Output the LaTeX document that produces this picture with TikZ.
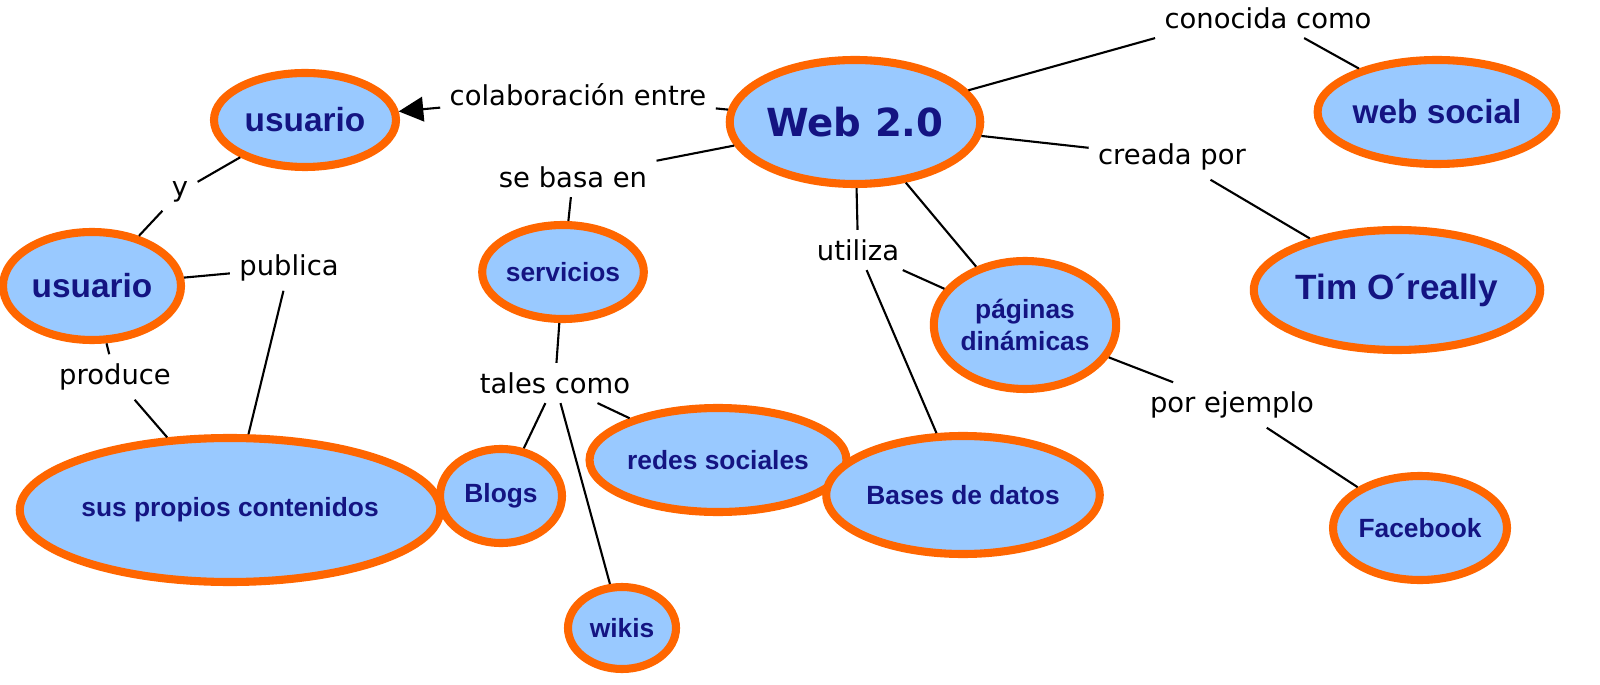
\documentclass[tikz,border=0pt]{standalone}
\usepackage{fontspec}
\setmainfont{DejaVu Sans}
\newfontfamily\nodefont{Liberation Sans}
\usetikzlibrary{shapes.geometric,arrows.meta}
\definecolor{fillblue}{RGB}{153,201,255}
\definecolor{borderor}{RGB}{255,102,0}
\definecolor{navy}{RGB}{20,20,130}
\tikzset{
 concept/.style={ellipse,draw=borderor,fill=fillblue,line width=2.3pt,inner sep=0pt,text=navy,font=\nodefont\bfseries\fontsize{7.5}{9}\selectfont,align=center},
 lbl/.style={inner sep=2.5pt,font=\fontsize{7.8}{9.5}\selectfont},
 conn/.style={line width=0.6pt,black}
}
\begin{document}
\begin{tikzpicture}
\useasboundingbox (0,0) rectangle (16,6.84);
\fill[white] (0,0) rectangle (16,6.84);
% concepts
\node[concept,minimum width=1.82cm,minimum height=0.94cm,font=\nodefont\bfseries\fontsize{9.5}{11}\selectfont] (u1) at (3.05,5.64) {usuario};
\node[concept,minimum width=1.78cm,minimum height=1.08cm,font=\nodefont\bfseries\fontsize{9.5}{11}\selectfont] (u2) at (0.92,3.98) {usuario};
\node[concept,minimum width=3.12cm,minimum height=1.44cm] (sus) at (2.30,1.74) {sus propios contenidos};
\node[concept,minimum width=2.42cm,minimum height=1.24cm,font=\bfseries\fontsize{11}{13}\selectfont] (web) at (8.55,5.62) {Web 2.0};
\node[concept,minimum width=1.92cm,minimum height=1.04cm,font=\nodefont\bfseries\fontsize{9.5}{11}\selectfont] (ws) at (14.37,5.72) {web social};
\node[concept,minimum width=2.52cm,minimum height=1.2cm,font=\nodefont\bfseries\fontsize{10}{12}\selectfont] (tim) at (13.97,3.94) {Tim O´really};
\node[concept,minimum width=1.56cm,minimum height=0.94cm] (serv) at (5.63,4.12) {servicios};
\node[concept,minimum width=1.68cm,minimum height=1.28cm] (pag) at (10.25,3.59) {páginas\\dinámicas};
\node[concept,minimum width=2.16cm,minimum height=1.04cm] (redes) at (7.18,2.24) {redes sociales};
\node[concept,minimum width=1.22cm,minimum height=0.94cm] (blogs) at (5.01,1.88) {Blogs};
\node[concept,minimum width=1.08cm,minimum height=0.82cm] (wikis) at (6.22,0.56) {wikis};
\node[concept,minimum width=2.32cm,minimum height=1.18cm] (bases) at (9.63,1.89) {Bases de datos};
\node[concept,minimum width=1.72cm,minimum height=1.04cm] (fb) at (14.20,1.56) {Facebook};
% labels
\node[lbl] (colab) at (5.78,5.89) {colaboración entre};
\node[lbl] (cono) at (12.68,6.66) {conocida como};
\node[lbl] (crea) at (11.72,5.27) {creada por};
\node[lbl] (basa) at (5.73,5.07) {se basa en};
\node[lbl] (util) at (8.58,4.34) {utiliza};
\node[lbl] (y) at (1.80,4.92) {y};
\node[lbl] (pub) at (2.89,4.16) {publica};
\node[lbl] (prod) at (1.15,3.07) {produce};
\node[lbl] (tales) at (5.55,3.01) {tales como};
\node[lbl] (ejem) at (12.32,2.79) {por ejemplo};
% connectors
\draw[conn] (web) -- (colab);
\draw[conn,-{Triangle[length=7pt,width=7pt]}] (colab) -- (u1);
\draw[conn] (web) -- (cono.south west);
\draw[conn] (cono) -- (ws);
\draw[conn] (web) -- (crea);
\draw[conn] (crea) -- (tim);
\draw[conn] (web) -- (basa);
\draw[conn] (basa) -- (serv);
\draw[conn] (web) -- (util);
\draw[conn] (util) -- (pag);
\draw[conn] (web) -- (pag);
\draw[conn] (util) -- (bases);
\draw[conn] (pag) -- (ejem);
\draw[conn] (ejem) -- (fb);
\draw[conn] (serv) -- (tales);
\draw[conn] (tales) -- (blogs);
\draw[conn] (tales) -- (wikis);
\draw[conn] (tales) -- (redes);
\draw[conn] (u1) -- (y);
\draw[conn] (y) -- (u2);
\draw[conn] (u2) -- (pub);
\draw[conn] (pub) -- (sus);
\draw[conn] (u2) -- (prod);
\draw[conn] (prod) -- (sus);
\end{tikzpicture}
\end{document}
